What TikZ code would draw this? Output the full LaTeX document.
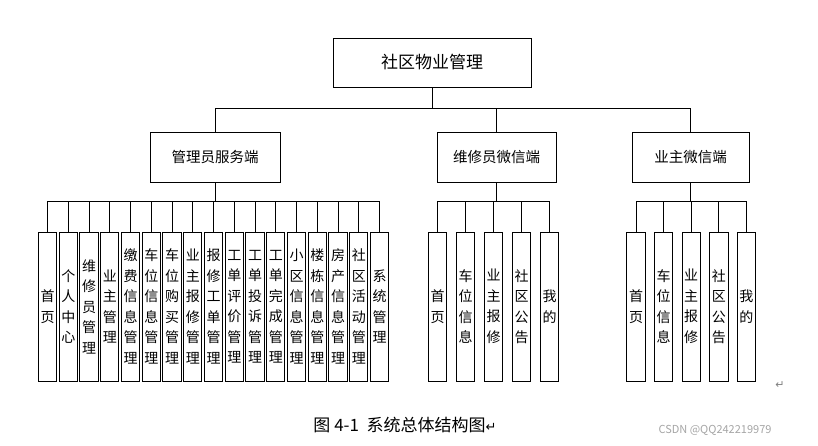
\documentclass[tikz,border=0pt]{standalone}
\usepackage{fontspec}
\setmainfont{Noto Sans CJK SC}
\newfontfamily\dejavu{DejaVu Sans}
\begin{document}
\begin{tikzpicture}[x=1pt,y=-1pt,
  box/.style={draw,line width=0.9pt,inner sep=0pt},
  leaf/.style={box,minimum width=18.3pt,minimum height=149pt,align=center,font=\fontsize{14}{20.5}\selectfont},
  con/.style={line width=0.7pt}]
\useasboundingbox (0,0) rectangle (818,446);
\fill[white] (0,0) rectangle (818,446);
\node[box,minimum width=198pt,minimum height=49pt,font=\fontsize{17}{20}\selectfont] (top) at (432,62.5) {社区物业管理};
\node[box,minimum width=130pt,minimum height=50pt,font=\fontsize{14.5}{18}\selectfont] (m1) at (215,157) {管理员服务端};
\node[box,minimum width=119pt,minimum height=50pt,font=\fontsize{14.5}{18}\selectfont] (m2) at (496.5,157) {维修员微信端};
\node[box,minimum width=117pt,minimum height=50pt,font=\fontsize{14.5}{18}\selectfont] (m3) at (690.5,157) {业主微信端};
\coordinate (b0) at (432,108);
\draw[con] (top.south) -- (b0);
\draw[con] (b0) -| (m1.north);
\draw[con] (b0) -| (m2.north);
\draw[con] (b0) -| (m3.north);
\coordinate (c1) at (215,201);
\coordinate (c2) at (496.5,201);
\coordinate (c3) at (690.5,201);
\draw[con] (m1.south) -- (c1);
\draw[con] (m2.south) -- (c2);
\draw[con] (m3.south) -- (c3);
\foreach \t [count=\i from 0] in {首\\页,个\\人\\中\\心,维\\修\\员\\管\\理,业\\主\\管\\理,缴\\费\\信\\息\\管\\理,车\\位\\信\\息\\管\\理,车\\位\\购\\买\\管\\理,业\\主\\报\\修\\管\\理,报\\修\\工\\单\\管\\理,工\\单\\评\\价\\管\\理,工\\单\\投\\诉\\管\\理,工\\单\\完\\成\\管\\理,小\\区\\信\\息\\管\\理,楼\\栋\\信\\息\\管\\理,房\\产\\信\\息\\管\\理,社\\区\\活\\动\\管\\理,系\\统\\管\\理}{
  \node[leaf] (l\i) at ({47.5+20.75*\i},306.5) {\t};
  \draw[con] (c1) -| (l\i.north);
}
\foreach \t [count=\i from 0] in {首\\页,车\\位\\信\\息,业\\主\\报\\修,社\\区\\公\\告,我\\的}{
  \node[leaf] (w\i) at ({437.5+28*\i},306.5) {\t};
  \draw[con] (c2) -| (w\i.north);
  \node[leaf] (y\i) at ({636+27.6*\i},306.5) {\t};
  \draw[con] (c3) -| (y\i.north);
}
\node[font=\fontsize{17}{20}\selectfont] (cap) at (405,425) {图 4-1\ \ 系统总体结构图{\dejavu\fontsize{13}{15}\selectfont ↵}};
\node[font=\dejavu\fontsize{11}{13}\selectfont,text=gray] (ret) at (780,385) {↵};
\node[font=\fontsize{11}{13}\selectfont,text=gray!70] (wm) at (715,430) {CSDN @QQ242219979};
\end{tikzpicture}
\end{document}
